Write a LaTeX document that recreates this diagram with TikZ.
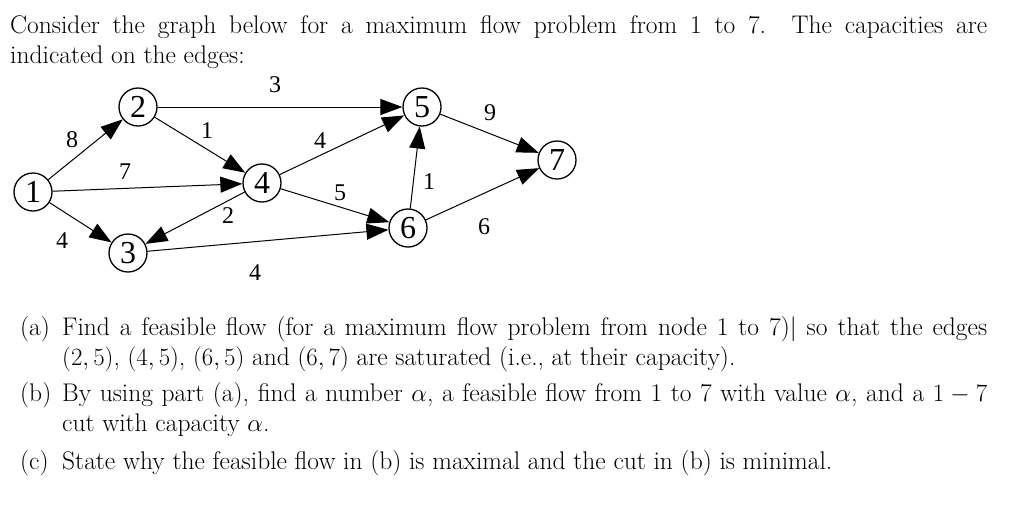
\documentclass[tikz,border=0pt]{standalone}
\usepackage{fontspec}
\newfontfamily\gfont{Liberation Serif}
\usetikzlibrary{arrows.meta}
\begin{document}
\begin{tikzpicture}[x=1pt,y=-1pt,
  vert/.style={circle,draw,line width=1.3pt,minimum size=38pt,inner sep=0pt,font=\gfont\fontsize{32}{32}\selectfont},
  edge/.style={line width=1pt,-{Triangle[length=22pt,width=16pt]}},
  lab/.style={font=\gfont\fontsize{24}{24}\selectfont},
  txt/.style={anchor=base west,inner sep=0pt,font=\fontsize{25.5}{28}\selectfont}]
\useasboundingbox (0,0) rectangle (1024,509);
\node[txt] (t1) at (10,33) {\makebox[977pt][s]{Consider the graph below for a maximum flow problem from 1 to 7.\ \ The capacities are}};
\node[txt] (t2) at (10,63) {indicated on the edges:};
\node[vert] (n1) at (33,192) {1};
\node[vert] (n2) at (138,107) {2};
\node[vert] (n3) at (128,253) {3};
\node[vert] (n4) at (262,183) {4};
\node[vert] (n5) at (422,107) {5};
\node[vert] (n6) at (408,228) {6};
\node[vert] (n7) at (557,160) {7};
\draw[edge] (n1) -- (n2);
\draw[edge] (n1) -- (n4);
\draw[edge] (n1) -- (n3);
\draw[edge] (n2) -- (n5);
\draw[edge] (n2) -- (n4);
\draw[edge] (n4) -- (n5);
\draw[edge] (n4) -- (n6);
\draw[edge] (n4) -- (n3);
\draw[edge] (n3) -- (n6);
\draw[edge] (n6) -- (n5);
\draw[edge] (n5) -- (n7);
\draw[edge] (n6) -- (n7);
\node[lab] (l1) at (275,85) {3};
\node[lab] (l2) at (72,140) {8};
\node[lab] (l3) at (207,131) {1};
\node[lab] (l4) at (125,172) {7};
\node[lab] (l5) at (320,141) {4};
\node[lab] (l6) at (490,113) {9};
\node[lab] (l7) at (340,193) {5};
\node[lab] (l8) at (429,182) {1};
\node[lab] (l9) at (228,216) {2};
\node[lab] (l10) at (484,227) {6};
\node[lab] (l11) at (62,241) {4};
\node[lab] (l12) at (255,273) {4};
\node[txt] (a0) at (20,335) {(a)};
\node[txt] (a1) at (62,335) {\makebox[925pt][s]{Find a feasible flow (for a maximum flow problem from node 1 to 7)$|$ so that the edges}};
\node[txt] (a2) at (62,365) {$(2,5)$, $(4,5)$, $(6,5)$ and $(6,7)$ are saturated (i.e., at their capacity).};
\node[txt] (b0) at (20,401) {(b)};
\node[txt] (b1) at (62,401) {\makebox[925pt][s]{By using part (a), find a number $\alpha$, a feasible flow from 1 to 7 with value $\alpha$, and a $1-7$}};
\node[txt] (b2) at (62,431) {cut with capacity $\alpha$.};
\node[txt] (c0) at (20,469) {(c)};
\node[txt] (c1) at (62,469) {State why the feasible flow in (b) is maximal and the cut in (b) is minimal.};
\end{tikzpicture}
\end{document}
